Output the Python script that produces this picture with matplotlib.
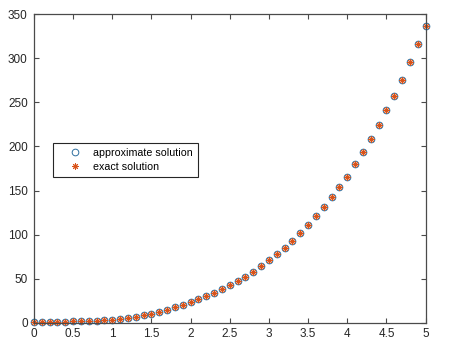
import matplotlib
matplotlib.use("Agg")
import matplotlib.pyplot as plt

# grid points (t) and solution values
t_values = [
    0.0, 0.1, 0.2, 0.3, 0.4, 0.5, 0.6, 0.7, 0.8, 0.9,
    1.0, 1.1, 1.2, 1.3, 1.4, 1.5, 1.6, 1.7, 1.8, 1.9,
    2.0, 2.1, 2.2, 2.3, 2.4, 2.5, 2.6, 2.7, 2.8, 2.9,
    3.0, 3.1, 3.2, 3.3, 3.4, 3.5, 3.6, 3.7, 3.8, 3.9,
    4.0, 4.1, 4.2, 4.3, 4.4, 4.5, 4.6, 4.7, 4.8, 4.9,
    5.0,
]
approximate_solution = [
    1.0, 1.0, 1.1, 1.2, 1.3, 1.5, 1.7, 2.0, 2.4, 2.9,
    3.5, 4.2, 5.1, 6.5, 8.2, 10.2, 12.5, 14.8, 17.5, 20.1,
    23.2, 26.9, 30.3, 34.1, 38.3, 42.8, 47.3, 52.2, 57.5, 64.0,
    70.8, 78.0, 84.8, 92.7, 101.5, 110.6, 121.1, 131.0, 142.3, 153.7,
    165.7, 179.8, 193.8, 208.3, 224.4, 241.4, 257.7, 275.5, 295.6, 316.3,
    336.8,
]
# the two series coincide at this resolution
exact_solution = list(approximate_solution)

x_ticks = [0, 0.5, 1, 1.5, 2, 2.5, 3, 3.5, 4, 4.5, 5]
x_tick_labels = ["0", "0.5", "1", "1.5", "2", "2.5", "3", "3.5", "4", "4.5", "5"]
y_ticks = [0, 50, 100, 150, 200, 250, 300, 350]

plt.rcParams["font.family"] = ["Liberation Sans", "DejaVu Sans"]

axis_color = "#4a4a4a"
blue = "#2f6f9f"
orange = "#d95319"

fig = plt.figure(figsize=(4.74, 3.48), dpi=100)
ax = fig.add_axes([0.0717, 0.0727, 0.8263, 0.8862])

ax.plot(t_values, approximate_solution, linestyle="none", marker="o",
        markersize=4.8, markerfacecolor="none", markeredgecolor=blue,
        markeredgewidth=0.7, label="approximate solution", clip_on=False)
ax.plot(t_values, exact_solution, linestyle="none", marker=(8, 2, 0),
        markersize=4.6, color=orange, markeredgewidth=0.7,
        label="exact solution", clip_on=False)

ax.set_xlim(0, 5)
ax.set_ylim(0, 350)
ax.set_xticks(x_ticks)
ax.set_xticklabels(x_tick_labels)
ax.set_yticks(y_ticks)

for spine in ax.spines.values():
    spine.set_color(axis_color)
    spine.set_linewidth(0.9)
ax.tick_params(direction="in", top=True, right=True, length=3.5, width=0.8,
               color=axis_color, labelcolor="#262626", labelsize=8.5)
ax.tick_params(axis="x", pad=3.5)
ax.tick_params(axis="y", pad=4.5)

legend = ax.legend(loc="upper left", bbox_to_anchor=(0.111, 0.588),
                   bbox_transform=fig.transFigure, borderaxespad=0,
                   fontsize=7.7, fancybox=False, framealpha=1,
                   handlelength=3.2, handletextpad=0.15, borderpad=0.45,
                   labelspacing=0.35)
legend.get_frame().set_edgecolor("#262626")
legend.get_frame().set_linewidth(0.8)

fig.savefig("out.png", dpi=100, facecolor="white")
plt.close(fig)
